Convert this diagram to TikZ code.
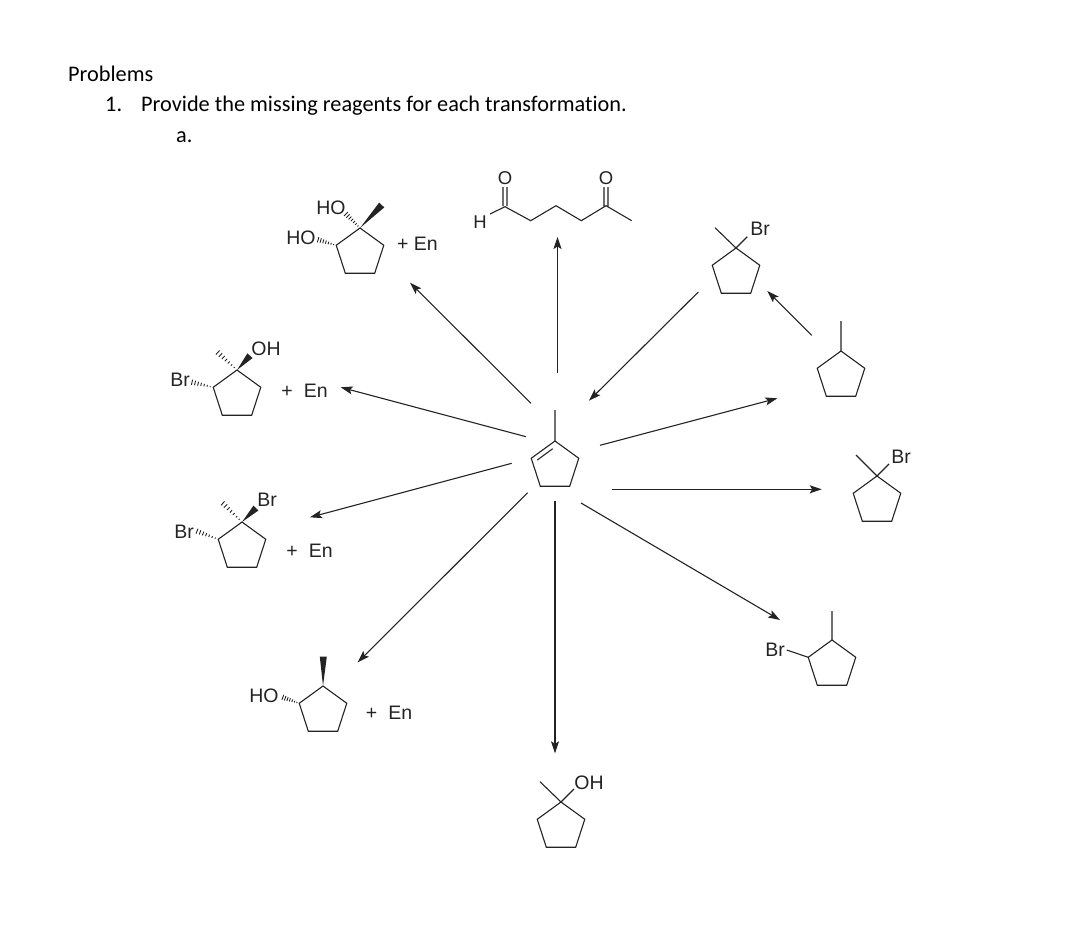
\documentclass[tikz,border=0pt]{standalone}
\usepackage{fontspec}
\setmainfont{Liberation Sans}
\newfontfamily\docfont[Ligatures=NoCommon]{Carlito}
\usetikzlibrary{arrows.meta, calc, shapes.geometric}
\definecolor{inkgray}{RGB}{35,35,35}

\tikzset{
    ring/.style={regular polygon,
                 regular polygon sides=5,
                 minimum size=50pt,
                 inner sep=0pt,
                 outer sep=0pt,
                 draw=inkgray,
                 line width=1.1pt},
    atom/.style={font=\fontsize{19.5}{20}\selectfont,
                 text=inkgray,
                 inner sep=0pt},
    chainatom/.style={font=\fontsize{18.5}{19}\selectfont,
                      text=inkgray,
                      inner sep=0pt},
    byprod/.style={font=\fontsize{19.5}{20}\selectfont,
                   text=inkgray,
                   inner sep=0pt},
    doc/.style={font=\docfont\fontsize{22.3}{24}\selectfont,
                text=black,
                anchor=base west,
                inner sep=0pt},
    bond/.style={draw=inkgray,
                 line width=1.1pt},
    rxn/.style={-{Stealth[length=12pt,width=8pt,inset=2.5pt]},
                draw=inkgray,
                line width=1.1pt}
}

\newcommand{\hashbond}[2]{%
    \foreach \i in {1,...,8} {
        \pgfmathsetmacro{\t}{\i/8}
        \pgfmathsetmacro{\w}{0.3+2.7*\t}
        \draw[bond, line width=0.9pt]
            ($($(#1)!\t!(#2)$)!\w pt!90:(#2)$) -- ($($(#1)!\t!(#2)$)!\w pt!-90:(#2)$);
    }
}
\newcommand{\wedgebond}[2]{%
    \fill[inkgray] (#1) -- ($(#2)!3.5pt!90:(#1)$) -- ($(#2)!3.5pt!-90:(#1)$) -- cycle;
}

\begin{document}
\begin{tikzpicture}[x=1pt, y=-1pt]
    \useasboundingbox (0,0) rectangle (1070,951);

    % Add the heading
        \node[doc] (title) at (68,81) {Problems};
        \node[doc] (num) at (105,111) {1.};
        \node[doc] (task) at (141,111) {Provide the missing reagents for each transformation.};
        \node[doc] (part) at (176,142) {a.};

    % Add the rings
        \node[ring] (start) at (555,466) {};
        \node[ring] (diol) at (360,253) {};
        \node[ring] (brol) at (237,395) {};
        \node[ring] (dibr) at (242,547) {};
        \node[ring] (hoi) at (323,711) {};
        \node[ring] (tert) at (561,827) {};
        \node[ring] (sec) at (832,665) {};
        \node[ring] (brtwo) at (877,501) {};
        \node[ring] (meth) at (841,376) {};
        \node[ring] (brone) at (736,273) {};

    % Add the atom labels
        \node[atom] (diolo) at (331,208) {HO};
        \node[atom] (diolb) at (301,238) {HO};
        \node[atom] (brolo) at (266,349) {OH};
        \node[atom] (brolb) at (180,380) {Br};
        \node[atom] (dibra) at (267,500) {Br};
        \node[atom] (dibrb) at (184,532) {Br};
        \node[atom] (hoio) at (264,696) {HO};
        \node[atom] (terto) at (589,783) {OH};
        \node[atom] (secb) at (775,650) {Br};
        \node[atom] (brtwob) at (901,457) {Br};
        \node[atom] (bronea) at (760,229) {Br};
        \node[chainatom] (keth) at (480,222) {H};
        \node[chainatom] (keta) at (505,178) {O};
        \node[chainatom] (ketb) at (606,178) {O};

    % Add the by-products
        \node[byprod] (endiol) at (417.5,244) {+ En};
        \node[byprod] (enbrol) at (304.5,390.5) {+\hspace{11pt}En};
        \node[byprod] (endibr) at (309.5,550.5) {+\hspace{11pt}En};
        \node[byprod] (enhoi) at (389,712.5) {+\hspace{11pt}En};

    % Free ends of the bonds
        \coordinate (startm) at (555,410);
        \coordinate (starta) at (537.3,460);
        \coordinate (startb) at (552.7,448.7);
        \coordinate (diolw) at (381.7,205);
        \coordinate (diolh) at (344,212);
        \coordinate (diolk) at (315.5,239);
        \coordinate (brolh) at (215,350);
        \coordinate (brolw) at (250,355.7);
        \coordinate (brolk) at (189,381.5);
        \coordinate (dibrh) at (220,500.7);
        \coordinate (dibrw) at (256,508);
        \coordinate (dibrk) at (194,530);
        \coordinate (hoiw) at (323.3,656.7);
        \coordinate (hoik) at (280.5,696.5);
        \coordinate (tertm) at (540,781.7);
        \coordinate (terth) at (574,789);
        \coordinate (secm) at (832,611);
        \coordinate (secl) at (786.7,650);
        \coordinate (brtwom) at (856,455);
        \coordinate (brtwol) at (889,464);
        \coordinate (methm) at (841,321);
        \coordinate (bronem) at (715,227.7);
        \coordinate (bronel) at (747.3,236.7);

    % Add the bonds
        \draw[bond]
            (start.corner 1) -- (startm)
            (starta) -- (startb)
            (tert.corner 1) -- (tertm)
            (tert.corner 1) -- (terth)
            (sec.corner 1) -- (secm)
            (sec.corner 2) -- (secl)
            (brtwo.corner 1) -- (brtwom)
            (brtwo.corner 1) -- (brtwol)
            (meth.corner 1) -- (methm)
            (brone.corner 1) -- (bronem)
            (brone.corner 1) -- (bronel);

        \wedgebond{diol.corner 1}{diolw}
        \wedgebond{brol.corner 1}{brolw}
        \wedgebond{dibr.corner 1}{dibrw}
        \wedgebond{hoi.corner 1}{hoiw}
        \hashbond{diol.corner 1}{diolh}
        \hashbond{diol.corner 2}{diolk}
        \hashbond{brol.corner 1}{brolh}
        \hashbond{brol.corner 2}{brolk}
        \hashbond{dibr.corner 1}{dibrh}
        \hashbond{dibr.corner 2}{dibrk}
        \hashbond{hoi.corner 2}{hoik}

    % Add the open chain
        \coordinate (cone) at (505,206.7);
        \coordinate (ctwo) at (530.7,220.7);
        \coordinate (cthree) at (556,205.7);
        \coordinate (cfour) at (581.3,220.7);
        \coordinate (cfive) at (606,205.7);
        \coordinate (csix) at (631.7,220.7);
        \coordinate (conea) at (503,187);
        \coordinate (coneb) at (507,187);
        \coordinate (conec) at (503,206);
        \coordinate (coned) at (507,206);
        \coordinate (cfivea) at (604,187);
        \coordinate (cfiveb) at (608,187);
        \coordinate (cfivec) at (604,206);
        \coordinate (cfived) at (608,206);
        \coordinate (chyd) at (490,214);
        \draw[bond]
            (chyd) -- (cone) -- (ctwo) -- (cthree) -- (cfour) -- (cfive) -- (csix)
            (conea) -- (conec)
            (coneb) -- (coned)
            (cfivea) -- (cfivec)
            (cfiveb) -- (cfived);

    % Free ends of the arrows
        \coordinate (adiol) at (531,403.3);
        \coordinate (bdiol) at (410,282.7);
        \coordinate (abrol) at (526,436.7);
        \coordinate (bbrol) at (340.7,387.3);
        \coordinate (adibr) at (511.7,463.3);
        \coordinate (bdibr) at (310,517.3);
        \coordinate (ahoi) at (527.7,492.7);
        \coordinate (bhoi) at (357.7,662.3);
        \coordinate (atert) at (555,501);
        \coordinate (btert) at (555,753.3);
        \coordinate (asec) at (581,503);
        \coordinate (bsec) at (780,620);
        \coordinate (abrtwo) at (612,489.3);
        \coordinate (bbrtwo) at (821.7,489.3);
        \coordinate (ameth) at (600,445.3);
        \coordinate (bmeth) at (777.3,398.3);
        \coordinate (abrone) at (698.3,292);
        \coordinate (bbrone) at (589,400.7);
        \coordinate (ameto) at (811.7,335.3);
        \coordinate (bmeto) at (767.3,291);
        \coordinate (aket) at (557.5,372.7);
        \coordinate (bket) at (557.5,237);

    % Add the arrows
 \path

            (adiol) edge[rxn] (bdiol)
            (abrol) edge[rxn] (bbrol)
            (adibr) edge[rxn] (bdibr)
            (ahoi) edge[rxn] (bhoi)
            (atert) edge[rxn] (btert)
            (asec) edge[rxn] (bsec)
            (abrtwo) edge[rxn] (bbrtwo)
            (ameth) edge[rxn] (bmeth)
            (abrone) edge[rxn] (bbrone)
            (ameto) edge[rxn] (bmeto)
            (aket) edge[rxn] (bket)
            ;

\end{tikzpicture}
\end{document}
